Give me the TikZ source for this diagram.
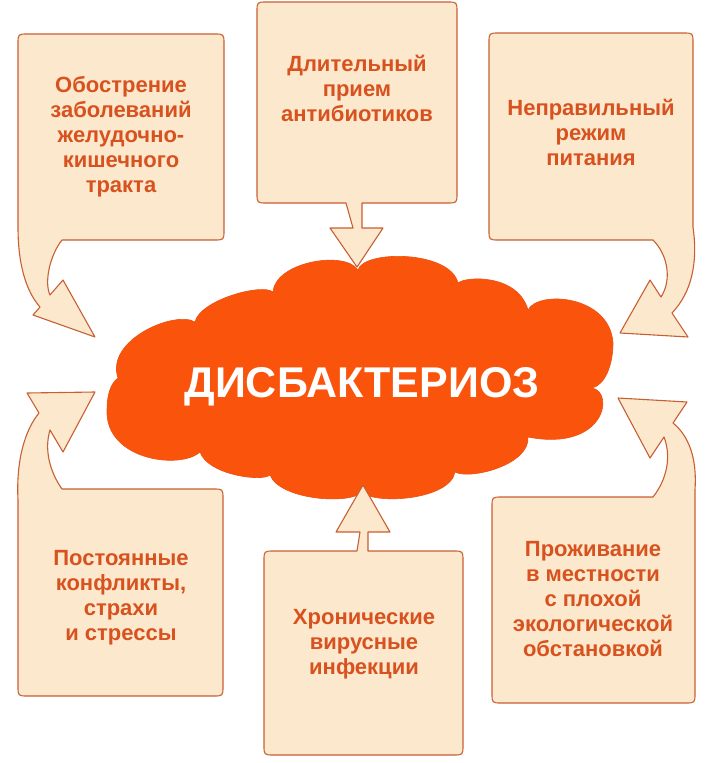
\documentclass[tikz,border=0pt]{standalone}
\usepackage{fontspec}
\setmainfont{Liberation Sans}
\definecolor{boxfill}{RGB}{252,232,205}
\definecolor{boxline}{RGB}{200,95,50}
\definecolor{txtc}{RGB}{215,82,30}
\definecolor{cloudc}{RGB}{250,84,12}
\definecolor{cloudedge}{RGB}{236,80,14}
\begin{document}
\begin{tikzpicture}[x=1pt,y=-1pt,
  callout/.style={fill=boxfill,draw=boxline,line width=1.1pt,line join=round},
  boxtext/.style={text=txtc,font=\bfseries\fontsize{22}{25}\selectfont,align=center,inner sep=0pt},
  maintext/.style={text=white,font=\bfseries\fontsize{43}{48}\selectfont,inner sep=0pt}]
\useasboundingbox (0,0) rectangle (718,763);
% cloud
\filldraw[fill=cloudc,draw=cloudedge,line width=0.6pt]
  (358,270) .. controls (363,250) and (450,250) .. (458,283)
  .. controls (466,276) and (518,274) .. (528,310)
  .. controls (538,290) and (610,295) .. (613,343)
  .. controls (613,365) and (605,385) .. (592,388)
  .. controls (615,392) and (605,452) .. (528,437)
  .. controls (530,465) and (470,480) .. (455,472)
  .. controls (450,500) and (375,505) .. (362,492)
  .. controls (350,505) and (280,500) .. (270,475)
  .. controls (262,482) and (208,475) .. (200,452)
  .. controls (180,470) and (105,460) .. (107,410)
  .. controls (107,396) and (110,384) .. (118,378)
  .. controls (105,340) and (175,310) .. (195,322)
  .. controls (200,300) and (262,283) .. (273,292)
  .. controls (275,262) and (345,250) .. (358,270) -- cycle;
\node[maintext,anchor=base] (main) at (362,397) {ДИСБАКТЕРИОЗ};
% box 1: top left
\draw[callout] (62,240) -- (214,240) .. controls (224,240) .. (224,230)
  -- (224,44) .. controls (224,34) .. (214,34) -- (28,34) .. controls (18,34) .. (18,44)
  -- (18,227) .. controls (18,262) and (25,290) .. (40,307)
  -- (33,315) -- (95,337) -- (63,280) -- (50,295)
  .. controls (44,282) and (50,255) .. (62,240) -- cycle;
% box 2: top middle
\draw[callout] (346,203) -- (267,203) .. controls (257,203) .. (257,193)
  -- (257,12) .. controls (257,2) .. (267,2) -- (447,2) .. controls (457,2) .. (457,12)
  -- (457,193) .. controls (457,203) .. (447,203) -- (362,203)
  -- (362,228) -- (383,228) -- (357,267) -- (330,228) -- (353,228) -- cycle;
% box 3: top right
\draw[callout] (653,240) -- (499,240) .. controls (489,240) .. (489,230)
  -- (489,43) .. controls (489,33) .. (499,33) -- (683,33) .. controls (693,33) .. (693,43)
  -- (693,227) .. controls (698,262) and (692,292) .. (672,313)
  -- (688,337) -- (620,333) -- (650,280) -- (661,297)
  .. controls (672,280) and (668,255) .. (653,240) -- cycle;
% box 4: bottom left
\draw[callout] (62,489) -- (213,489) .. controls (223,489) .. (223,499)
  -- (223,686) .. controls (223,696) .. (213,696) -- (28,696) .. controls (18,696) .. (18,686)
  -- (18,500) .. controls (16,460) and (25,430) .. (39,413)
  -- (27,393) -- (95,392) -- (63,452) -- (50,430)
  .. controls (44,450) and (50,472) .. (62,489) -- cycle;
% box 5: bottom middle
\draw[callout] (357,551) -- (274,551) .. controls (264,551) .. (264,561)
  -- (264,745) .. controls (264,755) .. (274,755) -- (453,755) .. controls (463,755) .. (463,745)
  -- (463,561) .. controls (463,551) .. (453,551) -- (368,551)
  -- (368,532) -- (390,532) -- (363,485) -- (336,532) -- (360,532) -- cycle;
% box 6: bottom right
\draw[callout] (653,497) -- (502,497) .. controls (492,497) .. (492,507)
  -- (492,693) .. controls (492,703) .. (502,703) -- (685,703) .. controls (695,703) .. (695,693)
  -- (695,490) .. controls (697,460) and (690,437) .. (673,423)
  -- (687,402) -- (618,398) -- (650,458) -- (664,437)
  .. controls (671,455) and (668,478) .. (653,497) -- cycle;
% texts
\node[boxtext] (t1) at (121,137.5) {\strut Обострение\\\strut заболеваний\\\strut желудочно-\\\strut кишечного\\\strut тракта};
\node[boxtext] (t2) at (357,91) {\strut Длительный\\\strut прием\\\strut антибиотиков};
\node[boxtext] (t3) at (591,135) {\strut Неправильный\\\strut режим\\\strut питания};
\node[boxtext] (t4) at (121,597.5) {\strut Постоянные\\\strut конфликты,\\\strut страхи\\\strut и стрессы};
\node[boxtext] (t5) at (364,644) {\strut Хронические\\\strut вирусные\\\strut инфекции};
\node[boxtext] (t6) at (593,601) {\strut Проживание\\\strut в местности\\\strut с плохой\\\strut экологической\\\strut обстановкой};
\end{tikzpicture}
\end{document}
